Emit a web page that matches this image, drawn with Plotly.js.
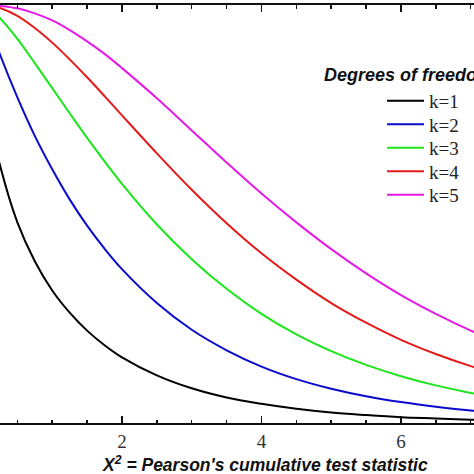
<!DOCTYPE html>
<html>
<head>
<meta charset="utf-8">
<script src="https://cdn.plot.ly/plotly-3.0.1.min.js"></script>
<style>html,body{margin:0;padding:0;background:#fff;}#chart{width:474px;height:474px;}</style>
</head>
<body>
<div id="chart"></div>
<script>
// chi-square statistic values (x axis)
var chiSq = [0.2, 0.25, 0.5, 0.75, 1, 1.25, 1.5, 1.75, 2, 2.5, 3, 3.5, 4, 4.5, 5, 5.5, 6, 6.5, 7, 7.5];
// p-values for each degrees of freedom
var k1 = [0.655, 0.617, 0.480, 0.387, 0.317, 0.264, 0.221, 0.186, 0.157, 0.114, 0.083, 0.061, 0.046, 0.034, 0.025, 0.019, 0.014, 0.011, 0.008, 0.006];
var k2 = [0.905, 0.882, 0.779, 0.687, 0.607, 0.535, 0.472, 0.417, 0.368, 0.287, 0.223, 0.174, 0.135, 0.105, 0.082, 0.064, 0.050, 0.039, 0.030, 0.024];
var k3 = [0.978, 0.969, 0.919, 0.861, 0.801, 0.741, 0.682, 0.626, 0.572, 0.475, 0.392, 0.321, 0.261, 0.212, 0.172, 0.139, 0.112, 0.090, 0.072, 0.058];
var k4 = [0.995, 0.993, 0.974, 0.945, 0.910, 0.870, 0.827, 0.782, 0.736, 0.645, 0.558, 0.478, 0.406, 0.343, 0.287, 0.240, 0.199, 0.165, 0.136, 0.112];
var k5 = [0.999, 0.998, 0.992, 0.980, 0.963, 0.940, 0.913, 0.883, 0.849, 0.777, 0.700, 0.623, 0.549, 0.480, 0.416, 0.358, 0.306, 0.261, 0.221, 0.186];
var seriesNames = ["k=1", "k=2", "k=3", "k=4", "k=5"];
var seriesColors = ["#000000", "#0a0acd", "#1ae61a", "#e31a1a", "#e619e6"];
var seriesValues = [k1, k2, k3, k4, k5];
var legendIds = ["legend", "legend2", "legend3", "legend4", "legend5"];

var traces = seriesValues.map(function (vals, i) {
  return {
    x: chiSq, y: vals, type: "scatter", mode: "lines",
    name: seriesNames[i], legend: legendIds[i],
    line: {color: seriesColors[i], width: 2, shape: "spline"}
  };
});

var layout = {
  width: 474, height: 474,
  margin: {l: 0, r: 0, t: 5, b: 51, pad: 0},
  paper_bgcolor: "#ffffff", plot_bgcolor: "#ffffff",
  showlegend: true,
  xaxis: {
    range: [0.251, 7.047],
    tick0: 0, dtick: 2,
    ticks: "inside", ticklen: 7, tickwidth: 1.5, tickcolor: "#111",
    minor: {dtick: 0.5, ticks: "inside", ticklen: 3.5, tickwidth: 1.5, tickcolor: "#111"},
    showline: true, linewidth: 2, linecolor: "#111", mirror: "ticks",
    showgrid: false, zeroline: false,
    tickfont: {family: "Liberation Serif, Times New Roman, serif", size: 19, color: "#333"}
  },
  yaxis: {
    range: [0, 1], visible: true, showline: false, showticklabels: false,
    ticks: "", showgrid: false, zeroline: false
  },
  annotations: [
    {
      text: "<b><i>Χ<sup>2</sup> = Pearson's cumulative test statistic</i></b>",
      xref: "paper", yref: "paper", x: 0.560, y: -0.097,
      xanchor: "center", yanchor: "middle", showarrow: false,
      font: {family: "Liberation Sans, Arial, sans-serif", size: 17.5, color: "#111"}
    },
    {
      text: "<b><i>Degrees of freedom</i></b>",
      xref: "paper", yref: "paper", x: 0.679, y: 0.8325,
      xanchor: "left", yanchor: "middle", showarrow: false,
      font: {family: "Liberation Sans, Arial, sans-serif", size: 18, color: "#111"}
    }
  ]
};

var rowY = [101, 124.5, 148, 171.5, 195];
legendIds.forEach(function (id, i) {
  layout[id] = {
    x: 0.806, xanchor: "left",
    y: (423 - rowY[i]) / 418, yanchor: "middle",
    font: {family: "Liberation Serif, Times New Roman, serif", size: 19, color: "#222"},
    bgcolor: "rgba(0,0,0,0)", itemwidth: 37
  };
});

Plotly.newPlot("chart", traces, layout, {displayModeBar: false, staticPlot: true});
</script>
</body>
</html>
